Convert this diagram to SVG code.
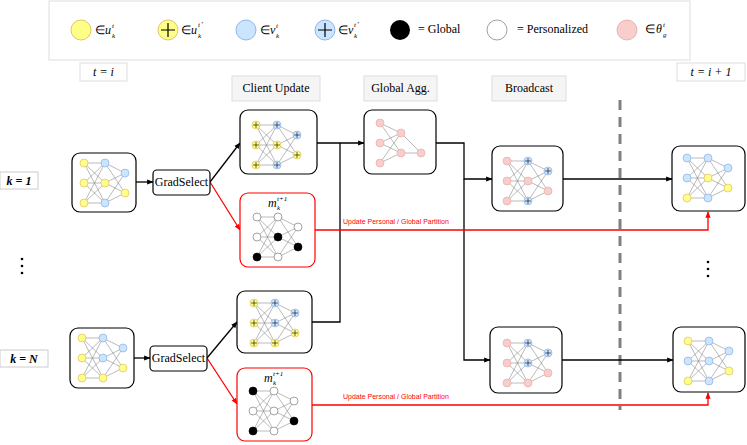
<svg xmlns="http://www.w3.org/2000/svg" xmlns:xlink="http://www.w3.org/1999/xlink" width="747" height="445" viewBox="0 0 747 445">
<style>
.box{fill:#fff;stroke:#000;stroke-width:1.2}
.rbox{fill:#fff;stroke:#ff0000;stroke-width:1.2}
.lbl{fill:#f5f5f5;stroke:#ddd;stroke-width:1}
.tl{font-family:"Liberation Serif",serif;font-size:12px;fill:#000}
.m{font-family:"Liberation Serif",serif;font-style:italic;font-size:12px;fill:#000}
.s{font-family:"Liberation Serif",serif;font-style:italic;font-size:7px;fill:#000}
.e{stroke:#777;stroke-width:0.5;fill:none}
.c{fill:none;stroke:#000;stroke-width:1.3}
.r{fill:none;stroke:#ff0000;stroke-width:1.3}
.rt{font-family:"Liberation Sans",sans-serif;font-size:7px;fill:#ff0000}
</style>
<defs>
<symbol id="nY" overflow="visible"><circle r="4" fill="#ffff88" stroke="#d6b656" stroke-width="0.6"/></symbol>
<symbol id="nB" overflow="visible"><circle r="4" fill="#cce5ff" stroke="#7ea6e0" stroke-width="0.6"/></symbol>
<symbol id="nP" overflow="visible"><circle r="4" fill="#f8cecc" stroke="#e6a5a5" stroke-width="0.6"/></symbol>
<symbol id="nW" overflow="visible"><circle r="4" fill="#fff" stroke="#666" stroke-width="0.6"/></symbol>
<symbol id="nK" overflow="visible"><circle r="4" fill="#000" stroke="#000" stroke-width="0.6"/></symbol>
<symbol id="nYp" overflow="visible"><circle r="4" fill="#ffff88" stroke="#d6b656" stroke-width="0.6"/><path d="M-3 0H3M0 -3V3" stroke="#000" stroke-width="0.6"/></symbol>
<symbol id="nBp" overflow="visible"><circle r="4" fill="#cce5ff" stroke="#7ea6e0" stroke-width="0.6"/><path d="M-3 0H3M0 -3V3" stroke="#000" stroke-width="0.6"/></symbol>
<g id="ed" class="e">
<path d="M-21 -20L0 -20M-21 -20L0 0M-21 -20L0 20M-21 0L0 -20M-21 0L0 0M-21 0L0 20M-21 20L0 -20M-21 20L0 0M-21 20L0 20M0 -20L20 -10M0 -20L20 10M0 0L20 -10M0 0L20 10M0 20L20 -10M0 20L20 10"/>
</g>
<marker id="ab" viewBox="0 0 10 10" refX="9" refY="5" markerWidth="5" markerHeight="5" orient="auto"><path d="M0 1L10 5L0 9z" fill="#000"/></marker>
<marker id="ar" viewBox="0 0 10 10" refX="9" refY="5" markerWidth="5" markerHeight="5" orient="auto"><path d="M0 1L10 5L0 9z" fill="#ff0000"/></marker>
</defs>

<g id="legend">
<rect x="49" y="1" width="641" height="59" fill="#fff" stroke="#ddd"/>
<circle cx="81" cy="30" r="10" fill="#ffff88" stroke="#d6b656" stroke-width="0.8"/>
<text class="tl" x="95" y="34">∈</text><text class="m" x="105" y="34">u</text><text class="s" x="112" y="28">t</text><text class="s" x="112" y="38">k</text>
<circle cx="168" cy="30" r="10" fill="#ffff88" stroke="#d6b656" stroke-width="0.8"/><path d="M161 30H175M168 23V37" stroke="#000" stroke-width="1.2"/>
<text class="tl" x="181" y="34">∈</text><text class="m" x="191" y="34">u</text><text class="s" x="198" y="27">t⁺</text><text class="s" x="198" y="38">k</text>
<circle cx="246" cy="30" r="10" fill="#cce5ff" stroke="#7ea6e0" stroke-width="0.8"/>
<text class="tl" x="260" y="34">∈</text><text class="m" x="270" y="34">v</text><text class="s" x="276" y="28">t</text><text class="s" x="276" y="38">k</text>
<circle cx="325" cy="30" r="10" fill="#cce5ff" stroke="#7ea6e0" stroke-width="0.8"/><path d="M318 30H332M325 23V37" stroke="#000" stroke-width="1.2"/>
<text class="tl" x="338" y="34">∈</text><text class="m" x="348" y="34">v</text><text class="s" x="354" y="27">t⁺</text><text class="s" x="354" y="38">k</text>
<circle cx="400" cy="30" r="10" fill="#000"/>
<text class="tl" x="418" y="33">= Global</text>
<circle cx="497" cy="30" r="10" fill="#fff" stroke="#888" stroke-width="0.8"/>
<text class="tl" x="517" y="33">= Personalized</text>
<circle cx="627" cy="30" r="10" fill="#f8cecc" stroke="#e6a5a5" stroke-width="0.8"/>
<text class="tl" x="645" y="33">∈</text><text class="m" x="656" y="33">θ</text><text class="s" x="663" y="27">t</text><text class="s" x="663" y="37">g</text>
</g>

<g id="labels">
<rect x="80" y="63" width="47" height="18" fill="#fff" stroke="#ddd"/>
<text class="m" x="103.5" y="76" text-anchor="middle">t = i</text>
<rect x="677" y="63" width="68" height="18" fill="#fff" stroke="#ddd"/>
<text class="m" x="711" y="76" text-anchor="middle">t = i + 1</text>
<rect class="lbl" x="232" y="76" width="88" height="25"/>
<text class="tl" x="276" y="92" text-anchor="middle">Client Update</text>
<rect class="lbl" x="364" y="76" width="73" height="25"/>
<text class="tl" x="400.5" y="92" text-anchor="middle">Global Agg.</text>
<rect class="lbl" x="492" y="76" width="74" height="25"/>
<text class="tl" x="529" y="92" text-anchor="middle">Broadcast</text>
<rect x="0" y="172" width="38" height="17" fill="#fff" stroke="#ccc"/>
<text class="m" x="19" y="185" text-anchor="middle" font-weight="bold">k = 1</text>
<rect x="0" y="350" width="48" height="17" fill="#fff" stroke="#ccc"/>
<text class="m" x="24" y="363" text-anchor="middle" font-weight="bold">k = N</text>
<circle cx="22" cy="259" r="1.3"/><circle cx="22" cy="266" r="1.3"/><circle cx="22" cy="273" r="1.3"/>
<circle cx="708" cy="262" r="1.3"/><circle cx="708" cy="269" r="1.3"/><circle cx="708" cy="276" r="1.3"/>
<line x1="620" y1="100" x2="620" y2="410" stroke="#808080" stroke-width="3" stroke-dasharray="10 7"/>
</g>

<g id="connectors">
<path class="c" d="M136 182H153" marker-end="url(#ab)"/>
<path class="c" d="M210 182L240 143" marker-end="url(#ab)"/>
<path class="r" d="M210 182L240 230" marker-end="url(#ar)"/>
<path class="c" d="M134 358H150" marker-end="url(#ab)"/>
<path class="c" d="M207 358L237 322" marker-end="url(#ab)"/>
<path class="r" d="M207 358L237 404" marker-end="url(#ar)"/>
<path class="c" d="M316 143H340M312 322H340V143H364" marker-end="url(#ab)"/>
<path class="c" d="M436 143H464V179H492" marker-end="url(#ab)"/>
<path class="c" d="M464 179V360H490" marker-end="url(#ab)"/>
<path class="c" d="M563 179H672" marker-end="url(#ab)"/>
<path class="c" d="M562 360H673" marker-end="url(#ab)"/>
<path class="r" d="M315 230H708V212" marker-end="url(#ar)"/>
<path class="r" d="M312 405H708V393" marker-end="url(#ar)"/>
<text class="rt" x="343" y="224">Update Personal / Global Partition</text>
<text class="rt" x="343" y="399">Update Personal / Global Partition</text>
</g>

<g id="init1">
<rect class="box" x="72" y="153" width="64" height="59" rx="8"/>
<g transform="translate(105,183)"><use href="#ed"/>
<use href="#nY" x="-21" y="-20"/><use href="#nY" x="-21" y="0"/><use href="#nY" x="-21" y="20"/>
<use href="#nB" x="0" y="-20"/><use href="#nY" x="0" y="0"/><use href="#nB" x="0" y="20"/>
<use href="#nB" x="20" y="-10"/><use href="#nY" x="20" y="10"/></g>
</g>
<g id="gs1"><rect class="box" x="153" y="170" width="57" height="25" rx="4"/><text class="tl" x="181.5" y="186" text-anchor="middle" font-size="9">GradSelect</text></g>
<g id="upd1">
<rect class="box" x="240" y="110" width="77" height="64" rx="8"/>
<g transform="translate(277,145)"><use href="#ed"/>
<use href="#nYp" x="-21" y="-20"/><use href="#nYp" x="-21" y="0"/><use href="#nYp" x="-21" y="20"/>
<use href="#nBp" x="0" y="-20"/><use href="#nYp" x="0" y="0"/><use href="#nBp" x="0" y="20"/>
<use href="#nBp" x="20" y="-10"/><use href="#nYp" x="20" y="10"/></g>
</g>
<g id="mask1">
<rect class="rbox" x="240" y="193" width="75" height="74" rx="8"/>
<text class="m" x="268" y="207" font-size="11">m</text><text class="s" x="277" y="201">t+1</text><text class="s" x="277" y="210">k</text>
<g transform="translate(278,237)"><use href="#ed"/>
<use href="#nW" x="-21" y="-20"/><use href="#nW" x="-21" y="0"/><use href="#nK" x="-21" y="20"/>
<use href="#nW" x="0" y="-20"/><use href="#nK" x="0" y="0"/><use href="#nW" x="0" y="20"/>
<use href="#nW" x="20" y="-10"/><use href="#nK" x="20" y="10"/></g>
</g>
<g id="global">
<rect class="box" x="364" y="110" width="72" height="64" rx="8"/>
<path class="e" d="M380 123L401 133M380 123L401 153M380 143L401 133M380 143L401 153M380 163L401 133M380 163L401 153M401 133L421 153M401 153L421 153"/>
<use href="#nP" x="380" y="123"/><use href="#nP" x="380" y="143"/><use href="#nP" x="380" y="163"/>
<use href="#nP" x="401" y="133"/><use href="#nP" x="401" y="153"/><use href="#nP" x="421" y="153"/>
</g>
<g id="bc1">
<rect class="box" x="492" y="146" width="71" height="65" rx="8"/>
<g transform="translate(528,181)"><use href="#ed"/>
<use href="#nP" x="-21" y="-20"/><use href="#nP" x="-21" y="0"/><use href="#nP" x="-21" y="20"/>
<use href="#nBp" x="0" y="-20"/><use href="#nP" x="0" y="0"/><use href="#nBp" x="0" y="20"/>
<use href="#nBp" x="20" y="-10"/><use href="#nP" x="20" y="10"/></g>
</g>
<g id="fin1">
<rect class="box" x="672" y="146" width="73" height="65" rx="8"/>
<g transform="translate(708,178)"><use href="#ed"/>
<use href="#nB" x="-21" y="-20"/><use href="#nB" x="-21" y="0"/><use href="#nY" x="-21" y="20"/>
<use href="#nB" x="0" y="-20"/><use href="#nY" x="0" y="0"/><use href="#nB" x="0" y="20"/>
<use href="#nB" x="20" y="-10"/><use href="#nY" x="20" y="10"/></g>
</g>

<g id="initN">
<rect class="box" x="70" y="328" width="64" height="60" rx="8"/>
<g transform="translate(103,358)"><use href="#ed"/>
<use href="#nY" x="-21" y="-20"/><use href="#nY" x="-21" y="0"/><use href="#nY" x="-21" y="20"/>
<use href="#nB" x="0" y="-20"/><use href="#nB" x="0" y="0"/><use href="#nY" x="0" y="20"/>
<use href="#nB" x="20" y="-10"/><use href="#nY" x="20" y="10"/></g>
</g>
<g id="gsN"><rect class="box" x="150" y="346" width="57" height="25" rx="4"/><text class="tl" x="178.5" y="362" text-anchor="middle" font-size="9">GradSelect</text></g>
<g id="updN">
<rect class="box" x="237" y="291" width="75" height="62" rx="8"/>
<g transform="translate(275,323)"><use href="#ed"/>
<use href="#nYp" x="-21" y="-20"/><use href="#nYp" x="-21" y="0"/><use href="#nYp" x="-21" y="20"/>
<use href="#nBp" x="0" y="-20"/><use href="#nBp" x="0" y="0"/><use href="#nYp" x="0" y="20"/>
<use href="#nBp" x="20" y="-10"/><use href="#nYp" x="20" y="10"/></g>
</g>
<g id="maskN">
<rect class="rbox" x="237" y="368" width="75" height="73" rx="8"/>
<text class="m" x="264" y="382" font-size="11">m</text><text class="s" x="273" y="376">t+1</text><text class="s" x="273" y="385">k</text>
<g transform="translate(274,411)"><use href="#ed"/>
<use href="#nK" x="-21" y="-20"/><use href="#nW" x="-21" y="0"/><use href="#nK" x="-21" y="20"/>
<use href="#nW" x="0" y="-20"/><use href="#nW" x="0" y="0"/><use href="#nW" x="0" y="20"/>
<use href="#nW" x="20" y="-10"/><use href="#nK" x="20" y="10"/></g>
</g>
<g id="bcN">
<rect class="box" x="490" y="327" width="72" height="66" rx="8"/>
<g transform="translate(528,363)"><use href="#ed"/>
<use href="#nP" x="-21" y="-20"/><use href="#nP" x="-21" y="0"/><use href="#nP" x="-21" y="20"/>
<use href="#nBp" x="0" y="-20"/><use href="#nBp" x="0" y="0"/><use href="#nP" x="0" y="20"/>
<use href="#nBp" x="20" y="-10"/><use href="#nP" x="20" y="10"/></g>
</g>
<g id="finN">
<rect class="box" x="673" y="327" width="72" height="65" rx="8"/>
<g transform="translate(709,361)"><use href="#ed"/>
<use href="#nY" x="-21" y="-20"/><use href="#nB" x="-21" y="0"/><use href="#nY" x="-21" y="20"/>
<use href="#nB" x="0" y="-20"/><use href="#nB" x="0" y="0"/><use href="#nB" x="0" y="20"/>
<use href="#nB" x="20" y="-10"/><use href="#nY" x="20" y="10"/></g>
</g>
</svg>
